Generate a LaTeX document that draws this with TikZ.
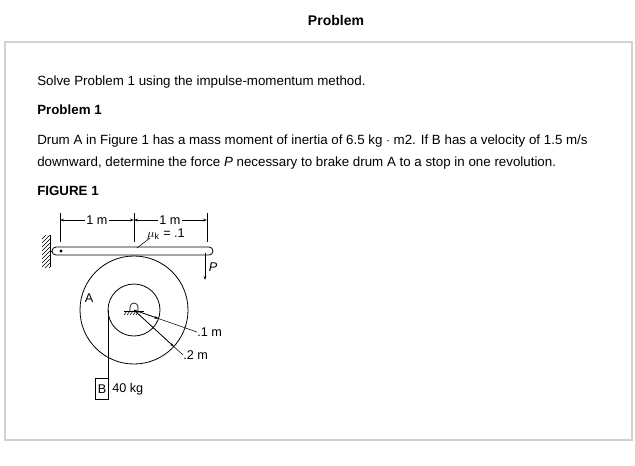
\documentclass[tikz,border=0pt]{standalone}
\usepackage{fontspec}
\setmainfont{Liberation Sans}
\usetikzlibrary{arrows.meta,patterns,calc}
\begin{document}
\begin{tikzpicture}[x=0.75pt,y=-0.75pt,
  txt/.style={anchor=west,inner sep=0,font=\fontsize{10}{12}\selectfont},
  fig/.style={inner sep=0,font=\fontsize{9.5}{10}\selectfont},
  dim/.style={-{Stealth[length=3pt,width=2pt]},line width=0.4pt},
  ln/.style={line width=0.6pt}]
\useasboundingbox (0,0) rectangle (635,465);
\node[inner sep=0,font=\bfseries\fontsize{10.5}{12}\selectfont] (title) at (336,20) {Problem};
\draw[gray!35,line width=0.8pt] (5,42) rectangle (632,440);
\node[txt] (t1) at (37,82) {Solve Problem 1 using the impulse-momentum method.};
\node[txt,font=\bfseries\fontsize{10}{12}\selectfont] (t2) at (37,110) {Problem 1};
\node[txt] (t3) at (37,141) {Drum A in Figure 1 has a mass moment of inertia of 6.5 kg $\cdot$ m2. If B has a velocity of 1.5 m/s};
\node[txt] (t4) at (37,163) {downward, determine the force \textit{P} necessary to brake drum A to a stop in one revolution.};
\node[txt,font=\bfseries\fontsize{10}{12}\selectfont] (t5) at (37,191) {FIGURE 1};
% wall
\fill[pattern=north east lines] (42,235) rectangle (50,267);
\draw[ln] (50,235) -- (50,267);
% bar
\draw[ln,fill=white,rounded corners=3pt] (52,247) rectangle (213,255);
\draw[ln] (50,251) -- (52,251);
\fill (61,251) circle (1.2pt);
% drum
\coordinate (O) at (134,310);
\draw[ln] (O) circle (40.5pt);
\draw[ln] (O) circle (19.5pt);
% pin
\draw[line width=0.5pt] (130,311) -- (130,307) arc (180:0:3pt) -- (138,311);
\draw[line width=0.5pt] (124,311) -- (144,311);
\foreach \i in {0,...,4} \draw[line width=0.4pt] (127+\i*3,311) -- (124+\i*3,315);
% rope and box
\draw[ln] (108,310) -- (108,378);
\node[draw,ln,minimum width=10pt,minimum height=16pt,inner sep=1pt,anchor=north,fig] (B) at (102,378) {B};
\node[fig,anchor=west] (kg) at (112,389) {40 kg};
% dimensions
\draw[line width=0.4pt] (60,213) -- (60,242) (134,213) -- (134,242) (207,213) -- (207,242);
\node[fig,fill=white,inner xsep=1pt] (d1) at (97,220) {1 m};
\node[fig,fill=white,inner xsep=1pt] (d2) at (170,220) {1 m};
\draw[dim] (d1.west) -- (60,220);
\draw[dim] (d1.east) -- (134,220);
\draw[dim] (d2.west) -- (134,220);
\draw[dim] (d2.east) -- (207,220);
\node[fig] (mu) at (166,234) {$\mu_{\mathrm k}$ = .1};
\draw[line width=0.4pt] (150,238) -- (137,248);
% P
\draw[dim,line width=0.6pt] (205,253) -- (205,280);
\node[fig,font=\itshape\fontsize{9.5}{10}\selectfont] (P) at (213,267) {P};
\node[fig] (A) at (89,298) {A};
% radii
\node[fig,anchor=west] (r1) at (197,332) {.1 m};
\node[fig,anchor=west] (r2) at (183,355) {.2 m};
\draw[line width=0.4pt] (O) -- (r1.west);
\draw[dim] (O) -- ($(O)!19.5pt!(r1.west)$);
\draw[line width=0.4pt] (O) -- (r2.west);
\draw[dim] (O) -- ($(O)!40.5pt!(r2.west)$);
\end{tikzpicture}
\end{document}
